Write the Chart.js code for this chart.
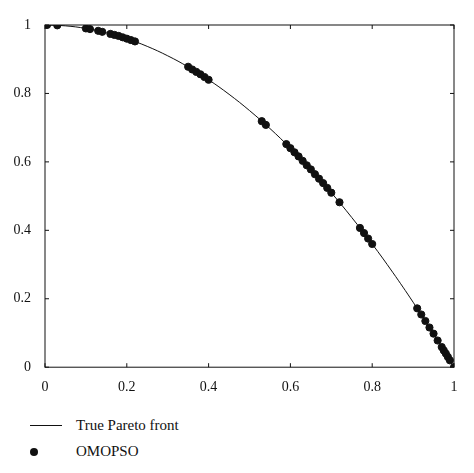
<!DOCTYPE html>
<html><head><meta charset="utf-8">
<script src="https://cdn.jsdelivr.net/npm/chart.js@4"></script>
<style>
body{margin:0;background:#fff;font-family:"Liberation Serif",serif;}
#wrap{position:absolute;left:0;top:0;width:474px;height:400px;}
.leg{position:absolute;left:30px;font-size:15px;color:#111;display:flex;align-items:center;}
.leg .ln{width:32px;height:0;border-top:1.2px solid #111;margin-right:14px;}
.leg .dt{width:8px;height:8px;border-radius:50%;background:#111;margin:0 38px 0 0;}
</style></head><body>
<div id="wrap"><canvas id="c" width="474" height="400"></canvas></div>
<div class="leg" style="top:417px"><span class="ln"></span>True Pareto front</div>
<div class="leg" style="top:443px"><span class="dt"></span>OMOPSO</div>
<script>
const frontX=[0,0.05,0.1,0.15,0.2,0.25,0.3,0.35,0.4,0.45,0.5,0.55,0.6,0.65,0.7,0.75,0.8,0.85,0.9,0.95,1];
const frontY=[1,0.9975,0.99,0.9775,0.96,0.9375,0.91,0.8775,0.84,0.7975,0.75,0.6975,0.64,0.5775,0.51,0.4375,0.36,0.2775,0.19,0.0975,0];
const omX=[0.005,0.03,0.1,0.11,0.13,0.14,0.16,0.17,0.18,0.19,0.2,0.21,0.22,0.35,0.36,0.37,0.38,0.39,0.4,0.53,0.54,0.59,0.6,0.61,0.62,0.63,0.64,0.65,0.66,0.67,0.68,0.69,0.7,0.72,0.77,0.78,0.79,0.8,0.91,0.92,0.93,0.94,0.95,0.96,0.97,0.975,0.98,0.985,0.99,1.0];
const omY=[1,0.999,0.99,0.988,0.983,0.98,0.974,0.971,0.968,0.964,0.96,0.956,0.952,0.878,0.87,0.863,0.856,0.848,0.84,0.719,0.708,0.652,0.64,0.628,0.616,0.603,0.59,0.578,0.564,0.551,0.538,0.524,0.51,0.482,0.407,0.392,0.376,0.36,0.172,0.154,0.135,0.116,0.098,0.078,0.059,0.049,0.04,0.03,0.02,0];
const ticks=[0,0.2,0.4,0.6,0.8,1];
const frame={id:'frame',afterDraw(ch){const a=ch.chartArea,c=ch.ctx;c.save();c.strokeStyle='#111';c.lineWidth=1;c.strokeRect(a.left,a.top,a.right-a.left,a.bottom-a.top);
c.beginPath();ticks.forEach(t=>{const x=ch.scales.x.getPixelForValue(t),y=ch.scales.y.getPixelForValue(t);
c.moveTo(x,a.bottom);c.lineTo(x,a.bottom-4);c.moveTo(x,a.top);c.lineTo(x,a.top+4);
c.moveTo(a.left,y);c.lineTo(a.left+4,y);c.moveTo(a.right,y);c.lineTo(a.right-4,y);});c.stroke();c.restore();}};
const tf=v=>ticks.includes(Math.round(v*10)/10)?String(Math.round(v*10)/10):'';
new Chart(document.getElementById('c'),{
type:'scatter',
data:{datasets:[
{label:'True Pareto front',data:frontX.map((x,i)=>({x,y:frontY[i]})),showLine:true,borderColor:'#111',borderWidth:1,pointRadius:0,tension:0.4},
{label:'OMOPSO',data:omX.map((x,i)=>({x,y:omY[i]})),backgroundColor:'#111',borderColor:'#111',pointRadius:3.6}
]},
options:{responsive:false,animation:false,
layout:{padding:{left:0,right:20,top:25,bottom:0}},
plugins:{legend:{display:false},tooltip:{enabled:false}},
scales:{
x:{type:'linear',min:0,max:1,grid:{display:false},border:{display:false},ticks:{stepSize:0.2,callback:tf,color:'#111',font:{family:'Liberation Serif',size:14},padding:4}},
y:{type:'linear',min:0,max:1,grid:{display:false},border:{display:false},afterFit(s){s.width=45;},ticks:{stepSize:0.2,callback:tf,color:'#111',font:{family:'Liberation Serif',size:14},padding:6}}
}},
plugins:[frame]});
</script></body></html>
